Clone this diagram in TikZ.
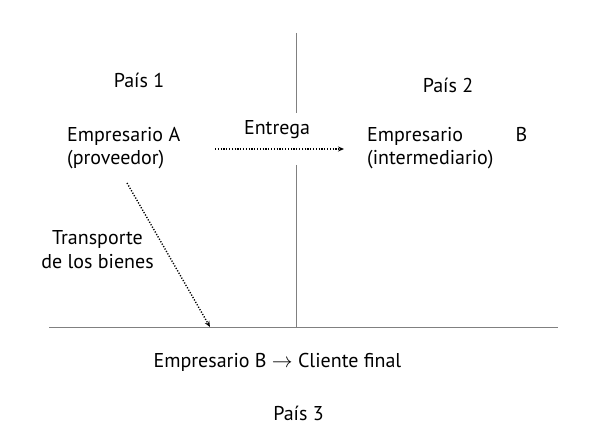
\documentclass[tikz,border=0pt]{standalone}
\usepackage{fontspec}
\setmainfont{PT Sans}
\usetikzlibrary{arrows.meta}
\begin{document}
\begin{tikzpicture}[x=1pt,y=-1pt,
  lbl/.style={inner sep=0pt,font=\fontsize{20}{23}\selectfont},
  axis/.style={draw=black!50,line width=0.9pt},
  flow/.style={draw=black,line width=1.4pt,dash pattern=on 1.2pt off 1.6pt,-{Stealth[length=6pt,width=5pt]}}]
\useasboundingbox (0,0) rectangle (599,446);
% axes
\coordinate (vt) at (296,33);
\coordinate (vm1) at (296,113);
\coordinate (vm2) at (296,165);
\coordinate (vb) at (296,327);
\coordinate (hl) at (49,327);
\coordinate (hr) at (558,327);
\draw[axis] (vt) -- (vm1);
\draw[axis] (vm2) -- (vb);
\draw[axis] (hl) -- (hr);
% labels
\node[lbl,anchor=base] (p1) at (139,88) {País 1};
\node[lbl,anchor=base] (p2) at (448,93) {País 2};
\node[lbl,anchor=base] (p3) at (298.5,420) {País 3};
\node[lbl,anchor=base west,align=left] (ea) at (67,165) {Empresario A\\(proveedor)};
\node[lbl,anchor=base west,align=left,text width=160pt] (eb) at (367,142) {Empresario\hfill B\\(intermediario)};
\node[lbl,anchor=base] (ent) at (277,135) {Entrega};
\node[lbl,anchor=base,align=center,font=\fontsize{20}{24}\selectfont] (tr) at (97.5,268) {Transporte\\de los bienes};
\node[lbl,anchor=base] (cf) at (277.5,367) {Empresario B $\rightarrow$ Cliente final};
% arrows
\coordinate (e1) at (215,149);
\coordinate (e2) at (344,149);
\coordinate (t1) at (127,183);
\coordinate (t2) at (210,327);
\draw[flow] (e1) -- (e2);
\draw[flow] (t1) -- (t2);
\end{tikzpicture}
\end{document}
